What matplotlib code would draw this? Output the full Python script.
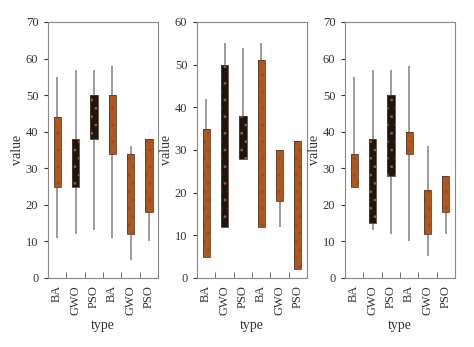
import matplotlib
matplotlib.use("Agg")
import matplotlib.pyplot as plt
import numpy as np

plt.rcParams["font.family"] = "Liberation Serif"
plt.rcParams["hatch.linewidth"] = 0.8

types = ["BA", "GWO", "PSO", "BA", "GWO", "PSO"]
dark = [False, True, True, False, False, False]

# panel 1
p1_box_lo = [25, 25, 38, 34, 12, 18]
p1_box_hi = [44, 38, 50, 50, 34, 38]
p1_wh_lo = [11, 12, 13, 11, 5, 10]
p1_wh_hi = [55, 57, 57, 58, 36, 38]

# panel 2
p2_box_lo = [5, 12, 28, 12, 18, 2]
p2_box_hi = [35, 50, 38, 51, 30, 32]
p2_wh_lo = [5, 12, 28, 12, 12, 2]
p2_wh_hi = [42, 55, 54, 55, 30, 32]

# panel 3
p3_box_lo = [25, 15, 28, 34, 12, 18]
p3_box_hi = [34, 38, 50, 40, 24, 28]
p3_wh_lo = [25, 13, 12, 10, 6, 12]
p3_wh_hi = [55, 57, 57, 58, 36, 28]

panels = [
    (p1_box_lo, p1_box_hi, p1_wh_lo, p1_wh_hi, 70),
    (p2_box_lo, p2_box_hi, p2_wh_lo, p2_wh_hi, 60),
    (p3_box_lo, p3_box_hi, p3_wh_lo, p3_wh_hi, 70),
]

brown = "#b0561f"
lefts = [48, 197, 345]
width_px = 110

fig = plt.figure(figsize=(4.74, 3.47), dpi=100)
for left, (blo, bhi, wlo, whi, ymax) in zip(lefts, panels):
    ax = fig.add_axes([left / 474, 1 - 278 / 347, width_px / 474, 256 / 347])
    x = np.arange(len(types))
    ax.vlines(x, wlo, whi, color="#8a8a8a", lw=1.2, zorder=1)
    for i in range(len(types)):
        if dark[i]:
            ax.bar(x[i], bhi[i] - blo[i], bottom=blo[i], width=0.4,
                   color="#1c1512", edgecolor="#9a5a30", hatch="..", lw=0, zorder=2)
        else:
            ax.bar(x[i], bhi[i] - blo[i], bottom=blo[i], width=0.4,
                   color=brown, edgecolor="#9a4a1a", hatch="..", lw=0, zorder=2)
        ax.bar(x[i], bhi[i] - blo[i], bottom=blo[i], width=0.4,
               fill=False, edgecolor="#5a3a2a", lw=0.6, zorder=3)
    ax.set_xlim(-0.5, len(types) - 0.5)
    ax.set_ylim(0, ymax)
    ax.set_yticks(np.arange(0, ymax + 1, 10))
    ax.set_xticks(x)
    ax.set_xticklabels(types, rotation=90)
    ax.set_xticks(np.arange(0.5, len(types) - 1, 1), minor=True)
    ax.tick_params(axis="x", which="major", length=0, pad=5, labelsize=9, colors="#333333")
    ax.tick_params(axis="x", which="minor", direction="in", length=4, color="#555555")
    ax.tick_params(axis="y", length=3, pad=4, labelsize=9, colors="#333333")
    for s in ax.spines.values():
        s.set_color("#888888")
        s.set_linewidth(0.8)
    ax.set_xlabel("type", fontsize=10, color="#333333")
    ax.set_ylabel("value", fontsize=10, color="#333333")
    ax.yaxis.set_label_coords(-0.22, 0.5)
    ax.xaxis.set_label_coords(0.5, -0.16)

fig.savefig("out.png", dpi=100)
